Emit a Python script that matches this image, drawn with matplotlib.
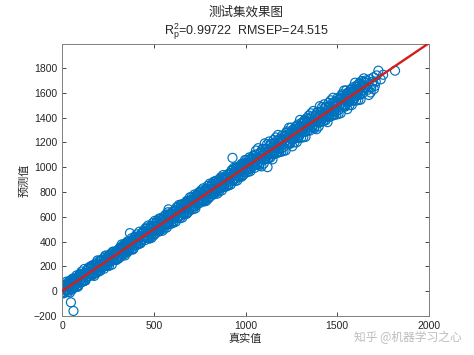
import matplotlib
matplotlib.use("Agg")
import matplotlib.pyplot as plt

# ---------------------------------------------------------------------------
# Test-set data: true value vs predicted value
# ---------------------------------------------------------------------------

true_vals = [
    4, 10, 16, 22, 28, 34, 40, 46, 52, 58, 64, 70, 76, 82, 88, 94, 100, 106, 112, 118, 124, 130, 136, 142, 148,
    154, 160, 166, 172, 178, 184, 190, 196, 202, 208, 214, 220, 226, 232, 238, 244, 250, 256, 262, 268, 274, 280, 286, 292, 298,
    304, 310, 316, 322, 328, 334, 340, 346, 352, 358, 364, 370, 376, 382, 388, 394, 400, 406, 412, 418, 424, 430, 436, 442, 448,
    454, 460, 466, 472, 478, 484, 490, 496, 502, 508, 514, 520, 526, 532, 538, 544, 550, 556, 562, 568, 574, 580, 586, 592, 598,
    604, 610, 616, 622, 628, 634, 640, 646, 652, 658, 664, 670, 676, 682, 688, 694, 700, 706, 712, 718, 724, 730, 736, 742, 748,
    754, 760, 766, 772, 778, 784, 790, 796, 802, 808, 814, 820, 826, 832, 838, 844, 850, 856, 862, 868, 874, 880, 886, 892, 898,
    904, 910, 916, 922, 928, 934, 940, 946, 952, 958, 964, 970, 976, 982, 988, 994, 1000, 1006, 1012, 1018, 1024, 1030, 1036, 1042, 1048,
    1054, 1060, 1066, 1072, 1078, 1084, 1090, 1096, 1102, 1108, 1114, 1120, 1126, 1132, 1138, 1144, 1150, 1156, 1162, 1168, 1174, 1180, 1186, 1192, 1198,
    1204, 1210, 1216, 1222, 1228, 1234, 1240, 1246, 1252, 1258, 1264, 1270, 1276, 1282, 1288, 1294, 1300, 1306, 1312, 1318, 1324, 1330, 1336, 1342, 1348,
    1354, 1360, 1366, 1372, 1378, 1384, 1390, 1396, 1402, 1408, 1414, 1420, 1426, 1432, 1438, 1444, 1450, 1456, 1462, 1468, 1474, 1480, 1486, 1492, 1498,
    1504, 1510, 1516, 1522, 1528, 1534, 1540, 1546, 1552, 1558, 1564, 1570, 1576, 1582, 1588, 1594, 1600, 1606, 1612, 1618, 1624, 1630, 1636, 1642, 1648,
    # second pass through the band
    7, 13, 19, 25, 31, 37, 43, 49, 55, 61, 67, 73, 79, 85, 91, 97, 103, 109, 115, 121, 127, 133, 139, 145, 151,
    157, 163, 169, 175, 181, 187, 193, 199, 205, 211, 217, 223, 229, 235, 241, 247, 253, 259, 265, 271, 277, 283, 289, 295, 301,
    307, 313, 319, 325, 331, 337, 343, 349, 355, 361, 367, 373, 379, 385, 391, 397, 403, 409, 415, 421, 427, 433, 439, 445, 451,
    457, 463, 469, 475, 481, 487, 493, 499, 505, 511, 517, 523, 529, 535, 541, 547, 553, 559, 565, 571, 577, 583, 589, 595, 601,
    607, 613, 619, 625, 631, 637, 643, 649, 655, 661, 667, 673, 679, 685, 691, 697, 703, 709, 715, 721, 727, 733, 739, 745, 751,
    757, 763, 769, 775, 781, 787, 793, 799, 805, 811, 817, 823, 829, 835, 841, 847, 853, 859, 865, 871, 877, 883, 889, 895, 901,
    907, 913, 919, 925, 931, 937, 943, 949, 955, 961, 967, 973, 979, 985, 991, 997, 1003, 1009, 1015, 1021, 1027, 1033, 1039, 1045, 1051,
    1057, 1063, 1069, 1075, 1081, 1087, 1093, 1099, 1105, 1111, 1117, 1123, 1129, 1135, 1141, 1147, 1153, 1159, 1165, 1171, 1177, 1183, 1189, 1195, 1201,
    1207, 1213, 1219, 1225, 1231, 1237, 1243, 1249, 1255, 1261, 1267, 1273, 1279, 1285, 1291, 1297, 1303, 1309, 1315, 1321, 1327, 1333, 1339, 1345, 1351,
    1357, 1363, 1369, 1375, 1381, 1387, 1393, 1399, 1405, 1411, 1417, 1423, 1429, 1435, 1441, 1447, 1453, 1459, 1465, 1471, 1477, 1483, 1489, 1495, 1501,
    1507, 1513, 1519, 1525, 1531, 1537, 1543, 1549, 1555, 1561, 1567, 1573, 1579, 1585, 1591, 1597, 1603, 1609, 1615, 1621, 1627, 1633, 1639, 1645, 1651,
    # third pass, the outer edge of the band
    1, 7, 13, 19, 25, 31, 37, 43, 49, 55, 61, 67, 73, 79, 85, 91, 97, 103, 109, 115, 121, 127, 133, 139, 145,
    151, 157, 163, 169, 175, 181, 187, 193, 199, 205, 211, 217, 223, 229, 235, 241, 247, 253, 259, 265, 271, 277, 283, 289, 295,
    301, 307, 313, 319, 325, 331, 337, 343, 349, 355, 361, 367, 373, 379, 385, 391, 397, 403, 409, 415, 421, 427, 433, 439, 445,
    451, 457, 463, 469, 475, 481, 487, 493, 499, 505, 511, 517, 523, 529, 535, 541, 547, 553, 559, 565, 571, 577, 583, 589, 595,
    601, 607, 613, 619, 625, 631, 637, 643, 649, 655, 661, 667, 673, 679, 685, 691, 697, 703, 709, 715, 721, 727, 733, 739, 745,
    751, 757, 763, 769, 775, 781, 787, 793, 799, 805, 811, 817, 823, 829, 835, 841, 847, 853, 859, 865, 871, 877, 883, 889, 895,
    901, 907, 913, 919, 925, 931, 937, 943, 949, 955, 961, 967, 973, 979, 985, 991, 997, 1003, 1009, 1015, 1021, 1027, 1033, 1039, 1045,
    1051, 1057, 1063, 1069, 1075, 1081, 1087, 1093, 1099, 1105, 1111, 1117, 1123, 1129, 1135, 1141, 1147, 1153, 1159, 1165, 1171, 1177, 1183, 1189, 1195,
    1201, 1207, 1213, 1219, 1225, 1231, 1237, 1243, 1249, 1255, 1261, 1267, 1273, 1279, 1285, 1291, 1297, 1303, 1309, 1315, 1321, 1327, 1333, 1339, 1345,
    1351, 1357, 1363, 1369, 1375, 1381, 1387, 1393, 1399, 1405, 1411, 1417, 1423, 1429, 1435, 1441, 1447, 1453, 1459, 1465, 1471, 1477, 1483, 1489, 1495,
    1501, 1507, 1513, 1519, 1525, 1531, 1537, 1543, 1549, 1555, 1561, 1567, 1573, 1579, 1585, 1591, 1597, 1603, 1609, 1615, 1621, 1627, 1633, 1639, 1645,
    # upper end and scattered points
    1660, 1668, 1672, 1685, 1690, 1698, 1705, 1710, 1724, 1737, 1750, 1815,
    1655, 1662, 1678, 1695, 1715, 1682, 1700,
    370, 929, 1120, 580,
    # outliers near the origin
    48, 62,
]

pred_vals = [
    22, -14, 53, 16, 37, -7, 66, 50, 35, 102, 31, 83, 74, 113, 40, 115, 88, 158, 84, 125, 86, 145, 170, 122, 148,
    136, 184, 129, 178, 169, 225, 164, 192, 219, 164, 247, 207, 228, 201, 286, 223, 262, 204, 290, 261, 312, 265, 252, 312, 298,
    322, 286, 353, 316, 337, 293, 366, 350, 335, 402, 331, 383, 374, 413, 340, 415, 388, 458, 384, 425, 386, 445, 470, 422, 448,
    436, 484, 429, 478, 469, 525, 464, 492, 519, 464, 547, 507, 528, 501, 586, 523, 562, 504, 590, 561, 612, 565, 552, 612, 598,
    622, 586, 653, 616, 637, 593, 666, 650, 635, 702, 631, 683, 674, 713, 640, 715, 688, 758, 684, 725, 686, 745, 770, 722, 748,
    736, 784, 729, 778, 769, 825, 764, 792, 819, 764, 847, 807, 828, 801, 886, 823, 862, 804, 890, 861, 912, 865, 852, 912, 898,
    922, 886, 953, 916, 937, 893, 966, 950, 935, 1002, 931, 983, 974, 1013, 940, 1015, 988, 1058, 984, 1025, 986, 1045, 1070, 1022, 1048,
    1036, 1084, 1029, 1078, 1069, 1125, 1064, 1092, 1119, 1064, 1147, 1107, 1128, 1101, 1186, 1123, 1162, 1104, 1190, 1161, 1212, 1165, 1152, 1212, 1198,
    1222, 1186, 1253, 1216, 1237, 1193, 1266, 1250, 1235, 1302, 1231, 1283, 1274, 1313, 1240, 1315, 1288, 1358, 1284, 1325, 1286, 1345, 1370, 1322, 1348,
    1336, 1384, 1329, 1378, 1369, 1425, 1364, 1392, 1419, 1364, 1447, 1407, 1428, 1401, 1486, 1423, 1462, 1404, 1490, 1461, 1512, 1465, 1452, 1512, 1498,
    1522, 1486, 1553, 1516, 1537, 1493, 1566, 1550, 1535, 1602, 1531, 1583, 1574, 1613, 1540, 1615, 1588, 1658, 1584, 1625, 1586, 1645, 1670, 1622, 1648,
    # second pass through the band
    -18, 43, 11, 77, 4, 51, -12, 89, 57, 25, 92, 58, 127, 35, 101, 133, 73, 129, 109, 179, 87, 161, 119, 190, 141,
    202, 133, 177, 123, 208, 173, 248, 159, 203, 247, 192, 238, 181, 285, 231, 211, 283, 239, 271, 213, 317, 255, 309, 250, 311,
    262, 343, 311, 377, 304, 351, 288, 389, 357, 325, 392, 358, 427, 335, 401, 433, 373, 429, 409, 479, 387, 461, 419, 490, 441,
    502, 433, 477, 423, 508, 473, 548, 459, 503, 547, 492, 538, 481, 585, 531, 511, 583, 539, 571, 513, 617, 555, 609, 550, 611,
    562, 643, 611, 677, 604, 651, 588, 689, 657, 625, 692, 658, 727, 635, 701, 733, 673, 729, 709, 779, 687, 761, 719, 790, 741,
    802, 733, 777, 723, 808, 773, 848, 759, 803, 847, 792, 838, 781, 885, 831, 811, 883, 839, 871, 813, 917, 855, 909, 850, 911,
    862, 943, 911, 977, 904, 951, 888, 989, 957, 925, 992, 958, 1027, 935, 1001, 1033, 973, 1029, 1009, 1079, 987, 1061, 1019, 1090, 1041,
    1102, 1033, 1077, 1023, 1108, 1073, 1148, 1059, 1103, 1147, 1092, 1138, 1081, 1185, 1131, 1111, 1183, 1139, 1171, 1113, 1217, 1155, 1209, 1150, 1211,
    1162, 1243, 1211, 1277, 1204, 1251, 1188, 1289, 1257, 1225, 1292, 1258, 1327, 1235, 1301, 1333, 1273, 1329, 1309, 1379, 1287, 1361, 1319, 1390, 1341,
    1402, 1333, 1377, 1323, 1408, 1373, 1448, 1359, 1403, 1447, 1392, 1438, 1381, 1485, 1431, 1411, 1483, 1439, 1471, 1413, 1517, 1455, 1509, 1450, 1511,
    1462, 1543, 1511, 1577, 1504, 1551, 1488, 1589, 1557, 1525, 1592, 1558, 1627, 1535, 1601, 1633, 1573, 1629, 1609, 1679, 1587, 1661, 1619, 1690, 1641,
    # third pass, the outer edge of the band
    29, -8, 34, 2, 56, 13, 78, 18, 84, 12, 81, 33, 100, 40, 114, 68, 139, 70, 128, 78, 146, 86, 164, 117, 181,
    123, 195, 142, 211, 144, 199, 146, 218, 164, 248, 191, 251, 196, 268, 206, 264, 205, 286, 240, 302, 246, 318, 252, 311, 259,
    329, 269, 334, 277, 356, 313, 378, 318, 384, 312, 381, 333, 400, 340, 414, 368, 439, 370, 428, 378, 446, 386, 464, 417, 481,
    411, 512, 433, 529, 430, 506, 429, 528, 449, 567, 483, 565, 485, 585, 493, 574, 487, 600, 532, 618, 535, 636, 539, 620, 544,
    641, 552, 643, 559, 670, 606, 695, 608, 699, 593, 689, 619, 711, 623, 727, 658, 757, 656, 736, 662, 757, 668, 777, 708, 796,
    711, 812, 733, 829, 730, 806, 729, 828, 749, 867, 783, 865, 785, 885, 793, 874, 787, 900, 832, 918, 835, 936, 839, 920, 844,
    941, 852, 943, 859, 970, 906, 995, 908, 999, 893, 989, 919, 1011, 923, 1027, 958, 1057, 956, 1036, 962, 1057, 968, 1077, 1008, 1096,
    995, 1134, 1021, 1153, 1012, 1116, 1006, 1142, 1029, 1192, 1072, 1184, 1070, 1207, 1076, 1187, 1063, 1219, 1121, 1239, 1121, 1260, 1121, 1232, 1124,
    1257, 1130, 1255, 1135, 1288, 1196, 1318, 1194, 1319, 1168, 1300, 1200, 1326, 1201, 1344, 1245, 1381, 1237, 1347, 1241, 1371, 1244, 1395, 1296, 1416,
    1295, 1434, 1321, 1453, 1312, 1416, 1306, 1442, 1329, 1492, 1372, 1484, 1370, 1507, 1376, 1487, 1363, 1519, 1421, 1539, 1421, 1560, 1421, 1532, 1424,
    1557, 1430, 1555, 1435, 1588, 1496, 1618, 1494, 1619, 1468, 1600, 1500, 1626, 1501, 1644, 1545, 1681, 1537, 1647, 1541, 1671, 1544, 1695, 1596, 1716,
    # upper end and scattered points
    1700, 1625, 1582, 1640, 1670, 1725, 1655, 1690, 1778, 1708, 1745, 1778,
    1680, 1640, 1710, 1690, 1740, 1602, 1630,
    468, 1075, 1000, 660,
    # outliers near the origin
    -90, -160,
]

x_ticks = [0, 500, 1000, 1500, 2000]
y_ticks = [-200, 0, 200, 400, 600, 800, 1000, 1200, 1400, 1600, 1800]
r2_p = 0.99722
rmsep = 24.515

plt.rcParams["font.family"] = ["Liberation Sans", "Noto Sans CJK SC", "DejaVu Sans"]
cjk = ["Noto Sans CJK SC", "DejaVu Sans"]

fig = plt.figure(figsize=(4.74, 3.55), dpi=100)
ax = fig.add_axes([0.131, 0.110, 0.774, 0.766])

ax.scatter(true_vals, pred_vals, s=42, facecolors="none",
           edgecolors="#0072BD", linewidths=0.85, zorder=2)
ax.plot([0, 2000], [0, 2000], color="#D41E1E", lw=1.7, zorder=3)

ax.set_xlim(0, 2000)
ax.set_ylim(-200, 1993)
ax.set_xticks(x_ticks)
ax.set_yticks(y_ticks)
ax.tick_params(direction="in", top=True, right=True, labelsize=7.5,
               colors="#262626", length=3, width=0.6)
for sp in ax.spines.values():
    sp.set_color("#808080")
    sp.set_linewidth(0.7)

ax.set_xlabel("真实值", family=cjk, fontsize=8, color="#262626", labelpad=2)
ax.set_ylabel("预测值", family=cjk, fontsize=8, color="#262626", labelpad=3)

fig.text(0.519, 0.965, "测试集效果图", family=cjk, fontsize=9,
         color="#262626", ha="center", va="center")
fig.text(0.519, 0.912,
         r"$\mathregular{R_p^2}$" + f"={r2_p:.5f}  RMSEP={rmsep:.3f}",
         fontsize=9, color="#262626", ha="center", va="center")

fig.text(0.975, 0.05, "知乎 @机器学习之心", family=cjk, fontsize=8.5,
         color="#bdbdbd", ha="right", va="center")

fig.savefig("out.png", dpi=100)
